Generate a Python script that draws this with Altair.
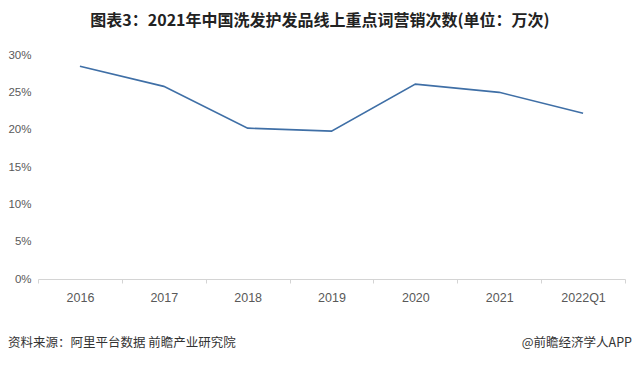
import altair as alt
import pandas as pd

categories = ["2016", "2017", "2018", "2019", "2020", "2021", "2022Q1"]
values = [0.285, 0.258, 0.202, 0.198, 0.261, 0.250, 0.222]

title_text = "图表3：2021年中国洗发护发品线上重点词营销次数(单位：万次)"
source_text = "资料来源：阿里平台数据 前瞻产业研究院"
credit_text = "@前瞻经济学人APP"

df = pd.DataFrame({"year": categories, "value": values})

W, H = 587, 224
CJK = "Noto Sans CJK SC"

line = alt.Chart(df).mark_line(color="#3f6fa6", strokeWidth=1.6).encode(
    x=alt.X("year:N", sort=categories, bandPosition=0.5,
            scale=alt.Scale(type="band", paddingInner=0, paddingOuter=0),
            axis=alt.Axis(title=None, labelAngle=0, domainColor="#d4d4d4",
                          tickColor="#d4d4d4", tickSize=4, tickBand="extent",
                          labelColor="#595959", labelFontSize=12.5,
                          labelFont="Liberation Sans", labelPadding=8)),
    y=alt.Y("value:Q",
            scale=alt.Scale(domain=[0, 0.3], nice=False),
            axis=alt.Axis(title=None, format=".0%", values=[0, 0.05, 0.1, 0.15, 0.2, 0.25, 0.3],
                          grid=False, domain=False, ticks=False,
                          labelColor="#595959", labelFontSize=11.5,
                          labelFont="Liberation Sans", labelPadding=7)),
)

txt_df = pd.DataFrame({"t": [title_text]})
title = alt.Chart(txt_df).mark_text(font=CJK, fontSize=16, fontWeight="bold",
                                    color="#222222", align="center", baseline="middle").encode(
    text="t:N", x=alt.value(282), y=alt.value(-34))

src_df = pd.DataFrame({"t": [source_text]})
src = alt.Chart(src_df).mark_text(font=CJK, fontSize=12.5, color="#333333",
                                  align="left", baseline="middle").encode(
    text="t:N", x=alt.value(-30), y=alt.value(288))

cr_df = pd.DataFrame({"t": [credit_text]})
cr = alt.Chart(cr_df).mark_text(font=CJK, fontSize=12.5, color="#333333",
                                align="right", baseline="middle").encode(
    text="t:N", x=alt.value(594), y=alt.value(288))

chart = alt.layer(line, title, src, cr).properties(
    width=W, height=H,
    autosize=alt.AutoSizeParams(type="none"),
    padding={"left": 30, "top": 47, "right": 7, "bottom": 78},
    background="white",
).configure_view(stroke=None)

chart.save("out.html", embed_options={"renderer": "svg", "actions": False})
